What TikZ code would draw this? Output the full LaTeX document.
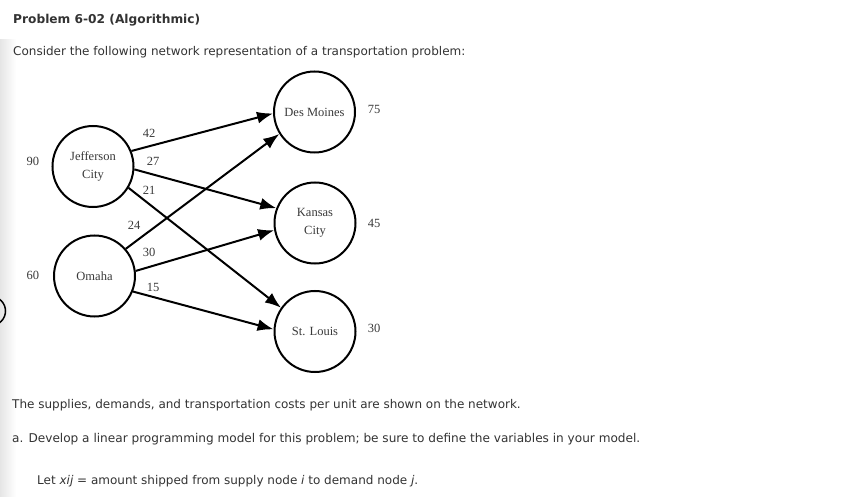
\documentclass[tikz,border=0pt]{standalone}
\usepackage{fontspec}
\setmainfont{Liberation Serif}
\newfontfamily\verd{DejaVu Sans}
\usetikzlibrary{arrows.meta}
\definecolor{txt}{HTML}{333333}
\definecolor{lbl}{HTML}{3A3A3A}
\begin{document}
\begin{tikzpicture}[x=1pt,y=-1pt,
  city/.style={circle,draw=black,line width=2pt,minimum size=81pt,inner sep=0pt,align=center,font=\fontsize{12.5}{18}\selectfont,text=lbl},
  num/.style={font=\fontsize{12.5}{14}\selectfont,text=lbl,inner sep=0pt},
  flow/.style={line width=2pt,-{Latex[length=16pt,width=12pt]}},
  para/.style={anchor=base west,inner sep=0pt,text=txt,font=\verd\fontsize{12}{14}\selectfont}]
\useasboundingbox (0,0) rectangle (862,497);
\fill[white] (0,0) rectangle (862,497);
\shade[left color=black!10,right color=white] (0,40) rectangle (16,497);
\begin{scope}
\clip (0,280) rectangle (20,340);
\draw[line width=1.5pt] (-9,311) circle[radius=14.5pt];
\end{scope}
% text
\node[para,font=\verd\bfseries\fontsize{12.2}{14}\selectfont] (title) at (13,24) {Problem 6-02 (Algorithmic)};
\node[para] (intro) at (13,56) {Consider the following network representation of a transportation problem:};
\node[para] (supp) at (12,408) {The supplies, demands, and transportation costs per unit are shown on the network.};
\node[para,font=\verd\fontsize{12.1}{14}\selectfont] (parta) at (12,442) {a. Develop a linear programming model for this problem; be sure to define the variables in your model.};
\node[para] (let) at (37,484) {Let \textit{xij} = amount shipped from supply node \textit{i} to demand node \textit{j}.};
% nodes
\node[city] (jc) at (93,166.5) {Jefferson\\City};
\node[city] (om) at (94.5,276) {Omaha};
\node[city] (dm) at (314.5,112) {Des Moines};
\node[city] (kc) at (315,223) {Kansas\\City};
\node[city] (sl) at (315,331.5) {St. Louis};
% supplies / demands
\node[num] (s1) at (33,161) {90};
\node[num] (s2) at (33,275) {60};
\node[num] (d1) at (374,109) {75};
\node[num] (d2) at (374,223) {45};
\node[num] (d3) at (374,328) {30};
% arcs
\draw[flow] (jc.22) -- (dm.182);
\draw[flow] (jc.-4) -- (kc.159);
\draw[flow] (jc.-31) -- (sl.145);
\draw[flow] (om.41) -- (dm.212);
\draw[flow] (om.7) -- (kc.190);
\draw[flow] (om.-22) -- (sl.177);
% costs
\node[num] (c1) at (149,133) {42};
\node[num] (c2) at (153,161) {27};
\node[num] (c3) at (149,190) {21};
\node[num] (c4) at (134,225.5) {24};
\node[num] (c5) at (149,252.5) {30};
\node[num] (c6) at (153,287) {15};
\end{tikzpicture}
\end{document}
